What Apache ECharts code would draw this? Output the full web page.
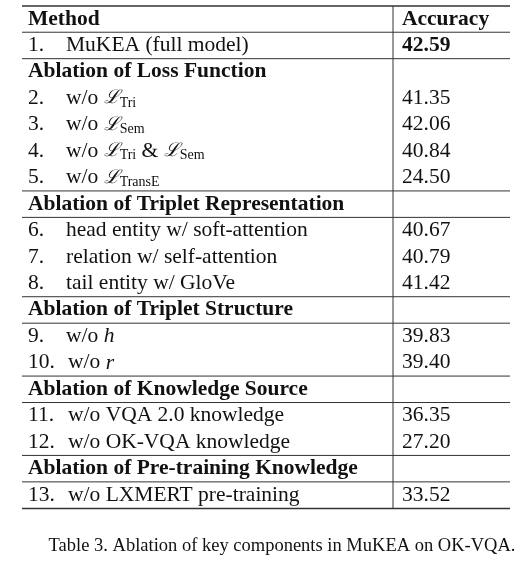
<!DOCTYPE html>
<html><head><meta charset="utf-8">
<script src="https://cdn.jsdelivr.net/npm/echarts@6/dist/echarts.min.js"></script>
<style>html,body{margin:0;background:#fff}#c{width:530px;height:562px}</style>
</head><body><div id="c"></div>
<script>
// rows: kind 'h' = section header, 'r' = data row
const rowKinds = ["head", "r", "h", "r", "r", "r", "r", "h", "r", "r", "r", "h", "r", "r", "h", "r", "r", "h", "r"];
const rowNums = ["", "1.", "", "2.", "3.", "4.", "5.", "", "6.", "7.", "8.", "", "9.", "10.", "", "11.", "12.", "", "13."];
const rowLabels = [
  "Method", "MuKEA (full model)", "Ablation of Loss Function",
  "w/o {L|ℒ}{s|Tri}", "w/o {L|ℒ}{s|Sem}", "w/o {L|ℒ}{s|Tri} & {L|ℒ}{s|Sem}", "w/o {L|ℒ}{s|TransE}",
  "Ablation of Triplet Representation",
  "head entity w/ soft-attention", "relation w/ self-attention", "tail entity w/ GloVe",
  "Ablation of Triplet Structure", "w/o {i|h}", "w/o {i|r}",
  "Ablation of Knowledge Source", "w/o VQA 2.0 knowledge", "w/o OK-VQA knowledge",
  "Ablation of Pre-training Knowledge", "w/o LXMERT pre-training"
];
const accuracy = ["Accuracy", "42.59", "", "41.35", "42.06", "40.84", "24.50", "", "40.67", "40.79", "41.42", "", "39.83", "39.40", "", "36.35", "27.20", "", "33.52"];
const ruleAfter = [0, 1, 6, 7, 10, 11, 13, 14, 16, 17]; // thin rules below these rows
const caption = "Table 3. Ablation of key components in MuKEA on OK-VQA.";

const chart = echarts.init(document.getElementById("c"));
const font = "Liberation Serif";
const fs = 21.5;
const x0 = 22, x1 = 510, xv = 393, top0 = 19, rh = 26.45;
const rowY = i => top0 + rh * i;
const rich = {
  L: { fontFamily: "DejaVu Serif", fontStyle: "italic", fontSize: 19, fill: "#111" },
  s: { fontFamily: font, fontSize: 14, padding: [9, 0, 0, 0] },
  i: { fontFamily: font, fontStyle: "italic", fontSize: fs }
};
const els = [];
const line = (xa, ya, xb, yb, w) => els.push({ type: "line", shape: { x1: xa, y1: ya, x2: xb, y2: yb }, style: { stroke: "#333", lineWidth: w } });

rowKinds.forEach((k, i) => {
  const y = rowY(i);
  const bold = k !== "r";
  if (k === "r") {
    els.push({ type: "text", x: 28, y, style: { text: rowNums[i], font: `${fs}px "${font}"`, fill: "#111", verticalAlign: "middle" } });
    els.push({ type: "text", x: rowNums[i].length > 2 ? 68 : 66, y, style: { text: rowLabels[i], font: `${fs}px "${font}"`, fill: "#111", verticalAlign: "middle", rich } });
  } else {
    els.push({ type: "text", x: 28, y, style: { text: rowLabels[i], font: `bold ${fs}px "${font}"`, fill: "#111", verticalAlign: "middle" } });
  }
  if (accuracy[i]) {
    els.push({ type: "text", x: 402, y, style: { text: accuracy[i], font: `${(bold || i === 1) ? "bold " : ""}${fs}px "${font}"`, fill: "#111", verticalAlign: "middle" } });
  }
});
const yTop = rowY(0) - 13, yBot = rowY(rowKinds.length - 1) + 13.5;
line(x0, yTop, x1, yTop, 1.5);
line(x0, yBot, x1, yBot, 1.5);
ruleAfter.forEach(i => { const y = rowY(i) + rh / 2; line(x0, y, x1, y, 1); });
line(xv, yTop, xv, yBot, 1);
els.push({ type: "text", x: 282, y: 546, style: { text: caption, font: `18.5px "${font}"`, fill: "#111", align: "center", verticalAlign: "middle" } });

chart.setOption({ graphic: { elements: els } });
</script></body></html>
